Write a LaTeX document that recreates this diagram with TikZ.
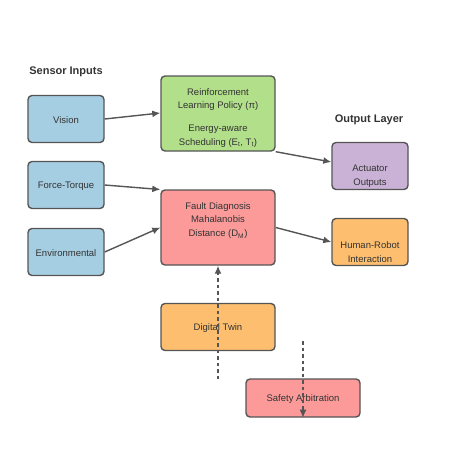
\documentclass[tikz,border=0pt]{standalone}
\usepackage{fontspec}
\setmainfont{Liberation Sans}
\usetikzlibrary{arrows.meta}
\definecolor{cblue}{HTML}{A6CEE3}
\definecolor{cgreen}{HTML}{B2DF8A}
\definecolor{cred}{HTML}{FB9A99}
\definecolor{corange}{HTML}{FDBF6F}
\definecolor{cpurple}{HTML}{CAB2D6}
\definecolor{cedge}{HTML}{555555}
\definecolor{ctext}{HTML}{333333}
\tikzset{
  box/.style={draw=cedge, line width=1.4pt, rounded corners=4pt, inner sep=0pt},
  lbl/.style={align=center, text=ctext, font=\fontsize{9.5}{13.7}\selectfont, inner sep=0pt},
  title/.style={font=\fontsize{11}{13}\selectfont\bfseries, text=ctext},
  conn/.style={draw=cedge, line width=1.4pt, -{Latex[length=8pt,width=7pt]}},
  dconn/.style={conn, dash pattern=on 3.5pt off 3pt}
}
\begin{document}
\begin{tikzpicture}[x=1pt,y=-1pt]
\useasboundingbox (0,0) rectangle (474,474);
\node[title] (sin) at (66,72) {Sensor Inputs};
\node[title] (out) at (369,119.5) {Output Layer};
\node[box, fill=cblue, minimum width=76pt, minimum height=47pt] (vis) at (66,119) {};
\node[lbl] (visl) at (66,120) {Vision};
\node[box, fill=cblue, minimum width=76pt, minimum height=47pt] (ft) at (66,185) {};
\node[lbl] (ftl) at (66,186) {Force-Torque};
\node[box, fill=cblue, minimum width=76pt, minimum height=47pt] (env) at (66,252) {};
\node[lbl] (envl) at (66,253) {Environmental};
\node[box, fill=cgreen, minimum width=114pt, minimum height=75pt] (rl) at (218,113.5) {};
\node[lbl] (rll1) at (218,99.5) {Reinforcement\\Learning Policy (π)};
\node[lbl] (rll2) at (218,136) {Energy-aware\\Scheduling (E\textsubscript{t}, T\textsubscript{t})};
\node[box, fill=cred, minimum width=114pt, minimum height=75pt] (fd) at (218,227.5) {};
\node[lbl] (fdl) at (218,220.5) {Fault Diagnosis\\Mahalanobis\\Distance (D\textsubscript{M})};
\node[box, fill=cpurple, minimum width=76pt, minimum height=47pt] (act) at (370,166) {};
\node[lbl] (actl) at (370,176) {Actuator\\Outputs};
\node[box, fill=corange, minimum width=76pt, minimum height=47pt] (hri) at (370,242) {};
\node[lbl] (hril) at (370,252) {Human-Robot\\Interaction};
\node[box, fill=corange, minimum width=114pt, minimum height=47pt] (dt) at (218,327) {};
\node[lbl] (dtl) at (218,328) {Digital Twin};
\node[box, fill=cred, minimum width=114pt, minimum height=38pt] (sa) at (303,398) {};
\node[lbl] (sal) at (303,399.5) {Safety Arbitration};
\coordinate (dts) at (218,379);
\coordinate (sas) at (303,341);
\draw[conn] (vis.east) -- (rl.west |- 0,113);
\draw[conn] (ft.east) -- (fd.north west |- 0,189.5);
\draw[conn] (env.east) -- (fd.west);
\draw[conn] (rl.south east) -- (act.west |- 0,162);
\draw[conn] (fd.east) -- (hri.west);
\draw[dconn] (dts) -- (fd.south);
\draw[dconn] (sas) -- (sa.south);
\end{tikzpicture}
\end{document}
